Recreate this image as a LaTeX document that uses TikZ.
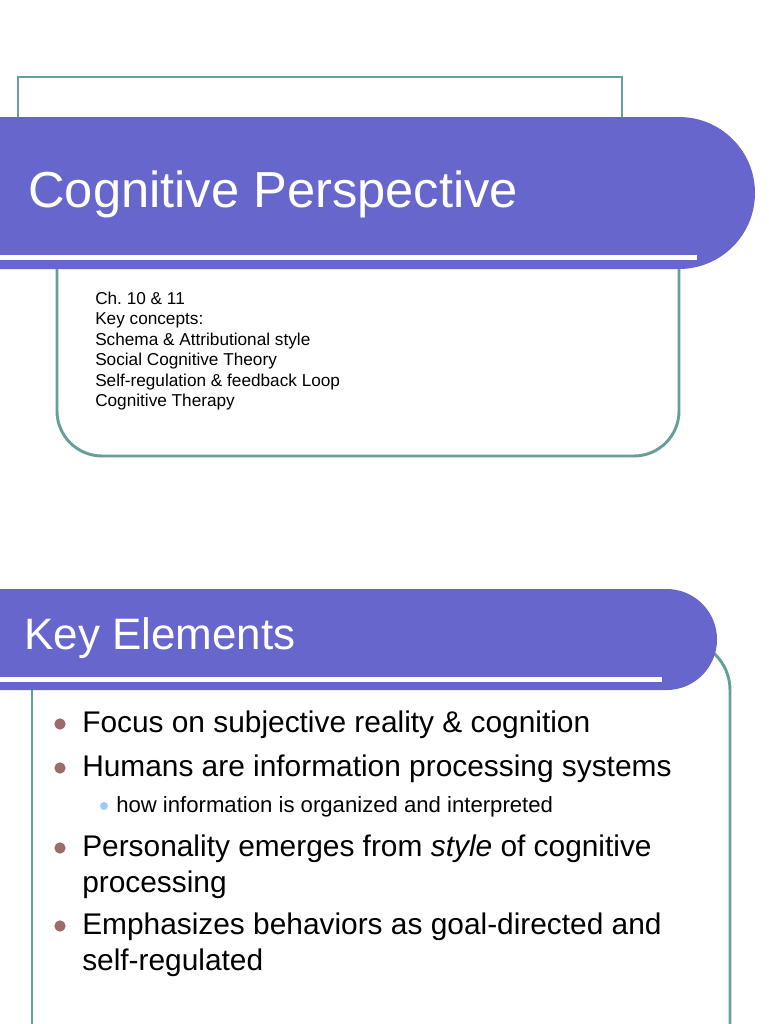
\documentclass[tikz,border=0pt]{standalone}
\usepackage{fontspec}
\setmainfont{Liberation Sans}
\frenchspacing
\begin{document}
\begin{tikzpicture}[x=0.75pt,y=-0.75pt,
  teal/.style={draw=tealc,line width=2.2pt},
  band/.style={fill=bandc},
  txt/.style={anchor=base west,inner sep=0,font=\fontsize{12.9}{15}\selectfont},
  big/.style={anchor=base west,inner sep=0,font=\fontsize{22.4}{26}\selectfont},
  sub/.style={anchor=base west,inner sep=0,font=\fontsize{16.6}{19}\selectfont},
  dot/.style={circle,fill=dotc,inner sep=0,minimum size=8.5pt},
  sdot/.style={circle,fill=sdotc,inner sep=0,minimum size=6pt}]
\definecolor{tealc}{HTML}{669E9A}
\definecolor{bandc}{HTML}{6666CC}
\definecolor{dotc}{HTML}{9E6B6B}
\definecolor{sdotc}{HTML}{99CCFF}
\useasboundingbox (0,0) rectangle (768,1024);
% slide 1
\draw[teal] (18,140) -- (18,77) -- (622,77) -- (622,140);
\draw[teal] (57,240) {[rounded corners=33.75pt] -- (57,456) -- (679,456)} -- (679,240);
\fill[band] (0,117) {[rounded corners=57pt] -- (755,117) -- (755,269)} -- (0,269) -- cycle;
\fill[white] (0,255) rectangle (697,260);
\node[anchor=base west,inner sep=0,text=white,font=\fontsize{38}{44}\selectfont] (t1) at (28,207) {Cognitive Perspective};
\node[txt] (l1) at (95,304) {Ch. 10 \& 11};
\node[txt] (l2) at (95,324.5) {Key concepts:};
\node[txt] (l3) at (95,345) {Schema \& Attributional style};
\node[txt] (l4) at (95,365.5) {Social Cognitive Theory};
\node[txt] (l5) at (95,386) {Self-regulation \& feedback Loop};
\node[txt] (l6) at (95,406.5) {Cognitive Therapy};
% slide 2
\draw[teal] (32,670) -- (32,1030);
\draw[teal] (640,640) {[rounded corners=37.5pt] -- (730,640) -- (730,1030)};
\fill[band] (0,589) {[rounded corners=37.8pt] -- (717,589) -- (717,690)} -- (0,690) -- cycle;
\fill[white] (0,677) rectangle (662,682);
\node[anchor=base west,inner sep=0,text=white,font=\fontsize{33}{38}\selectfont] (t2) at (24,649) {Key Elements};
\node[dot] (d1) at (60,724) {}; \node[big] (b1) at (82,732) {Focus on subjective reality \& cognition};
\node[dot] (d2) at (60,768) {}; \node[big] (b2) at (82,776) {Humans are information processing systems};
\node[sdot] (d3) at (104,806) {}; \node[sub] (b3) at (116,812) {how information is organized and interpreted};
\node[dot] (d4) at (60,848) {}; \node[big] (b4) at (82,856) {Personality emerges from \textit{style} of cognitive};
\node[big] (b4b) at (82,892) {processing};
\node[dot] (d5) at (60,926) {}; \node[big] (b5) at (82,934) {Emphasizes behaviors as goal-directed and};
\node[big] (b5b) at (82,970) {self-regulated};
\end{tikzpicture}
\end{document}
